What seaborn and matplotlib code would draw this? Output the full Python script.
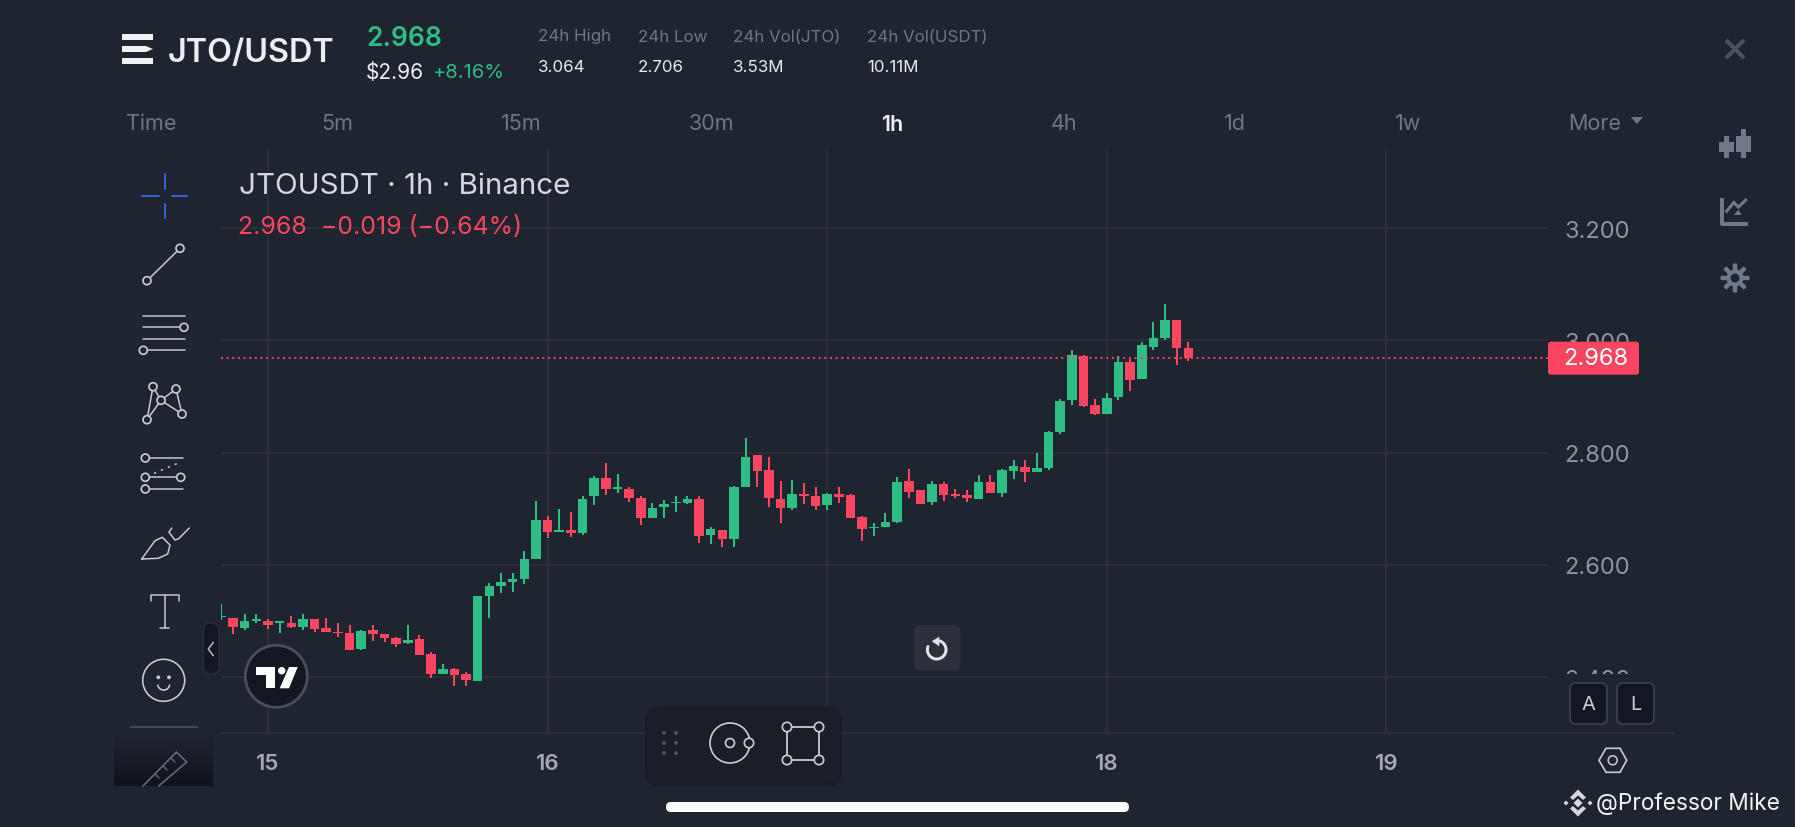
import numpy as np
import pandas as pd
import matplotlib
matplotlib.use("Agg")
import matplotlib.pyplot as plt
from matplotlib.colors import LinearSegmentedColormap
from matplotlib.patches import Circle, FancyBboxPatch, Polygon, Rectangle
import seaborn as sns

hours = list(range(-4, 80))
opens = [2.507,2.506,2.488,2.500,2.499,2.497,2.496,2.489,2.503,2.488,2.481,2.478,2.450,2.483,2.477,2.470,2.460,2.467,2.441,2.405,2.415,2.405,2.393,2.544,2.562,2.570,
         2.575,2.610,2.679,2.659,2.662,2.656,2.722,2.754,2.735,2.735,2.719,2.683,2.703,2.710,2.710,2.717,2.653,2.662,2.646,2.738,2.795,2.769,2.718,2.701,
         2.726,2.723,2.706,2.727,2.725,2.685,2.665,2.668,2.676,2.750,2.733,2.712,2.744,2.726,2.725,2.718,2.747,2.728,2.767,2.774,2.766,2.772,
         2.836,2.893,2.973,2.884,2.869,2.899,2.961,2.932,2.989,3.004,3.037,2.987]
highs = [2.530,2.506,2.512,2.512,2.504,2.500,2.508,2.512,2.504,2.505,2.497,2.493,2.483,2.493,2.477,2.472,2.492,2.474,2.445,2.424,2.416,2.409,2.545,2.567,2.586,2.585,
         2.624,2.714,2.687,2.700,2.695,2.722,2.758,2.782,2.761,2.738,2.722,2.711,2.716,2.723,2.723,2.723,2.668,2.662,2.740,2.826,2.795,2.793,2.749,2.752,
         2.745,2.738,2.728,2.738,2.726,2.687,2.675,2.692,2.757,2.770,2.734,2.749,2.747,2.736,2.734,2.760,2.760,2.770,2.786,2.786,2.799,2.838,
         2.895,2.982,2.974,2.896,2.907,2.973,2.967,2.998,3.033,3.064,3.037,2.998]
lows = [2.502,2.477,2.484,2.496,2.486,2.478,2.487,2.484,2.481,2.480,2.472,2.448,2.448,2.464,2.463,2.453,2.459,2.440,2.398,2.405,2.384,2.384,2.393,2.505,2.549,2.551,
        2.565,2.610,2.648,2.658,2.650,2.653,2.707,2.725,2.728,2.712,2.671,2.683,2.684,2.695,2.708,2.639,2.637,2.632,2.631,2.738,2.739,2.703,2.675,2.698,
        2.708,2.697,2.697,2.710,2.683,2.643,2.651,2.668,2.674,2.719,2.709,2.707,2.713,2.719,2.712,2.718,2.728,2.720,2.753,2.747,2.765,2.769,
        2.833,2.884,2.881,2.867,2.869,2.893,2.909,2.932,2.982,3.000,2.957,2.964]
closes = [2.509,2.489,2.500,2.503,2.493,2.500,2.489,2.503,2.486,2.480,2.478,2.448,2.482,2.477,2.469,2.459,2.466,2.440,2.405,2.415,2.404,2.395,2.544,2.563,2.570,2.574,
          2.610,2.679,2.658,2.662,2.656,2.718,2.754,2.736,2.738,2.719,2.683,2.702,2.708,2.712,2.717,2.651,2.663,2.646,2.739,2.793,2.767,2.719,2.701,2.727,
          2.723,2.704,2.727,2.721,2.683,2.663,2.668,2.677,2.747,2.730,2.709,2.744,2.725,2.722,2.719,2.747,2.728,2.769,2.776,2.766,2.772,2.836,
          2.892,2.974,2.883,2.868,2.898,2.961,2.930,2.991,3.005,3.036,2.987,2.968]
last_price = 2.968
price_ticks = [2.4, 2.6, 2.8, 3.0, 3.2]
day_hours = [0, 24, 48, 72, 96]
day_labels = ["15", "16", "17", "18", "19"]

BG = "#1f2530"; GRID = "#2b303b"; GREEN = "#2ebd85"; RED = "#f9455f"
DARK = "#131722"; ICON = "#c9ccd3"; GRAY = "#6f7683"; SIDE = "#6f7987"

sns.set_theme(style="dark", rc={"figure.facecolor": BG, "axes.facecolor": BG, "savefig.facecolor": BG})
plt.rcParams["font.family"] = ["Inter", "DejaVu Sans"]
plt.rcParams["patch.linewidth"] = 0

W, H = 1795, 828
fig = plt.figure(figsize=(W / 100, H / 100), dpi=100)
L, R, T_, B = 221, 1548, 150, 734
ax = fig.add_axes([L / W, 1 - B / H, (R - L) / W, (B - T_) / H])

df = pd.DataFrame({"hour": hours, "open": opens, "high": highs, "low": lows, "close": closes})
df["dir"] = np.where(df["close"] >= df["open"], "up", "down")
df["bottom"] = df[["open", "close"]].min(axis=1)
df["height"] = (df["open"] - df["close"]).abs()
palette = {"up": GREEN, "down": RED}

for d, col in palette.items():
    sub = df[df["dir"] == d]
    sns.barplot(data=sub, x="hour", y="height", bottom=sub["bottom"].to_numpy(), native_scale=True,
                width=0.82, color=col, saturation=1, errorbar=None, linewidth=0, ax=ax)

wicks = df.melt(id_vars=["hour", "dir"], value_vars=["high", "low"], value_name="price")
sns.lineplot(data=wicks, x="hour", y="price", hue="dir", units="hour", estimator=None,
             palette=palette, legend=False, linewidth=1.45, solid_capstyle="butt", ax=ax)

ax.axhline(last_price, color=RED, lw=1.4, ls=(0, (1, 1.9)), zorder=4)
ax.set_xlim((L - 268) / 11.65, (R - 268) / 11.65)
ax.set_ylim(3.2 - (B - 229.2) / 561, 3.2 + (229.2 - T_) / 561)
ax.set_xlabel(""); ax.set_ylabel("")
ax.set_xticks(day_hours, day_labels)
ax.yaxis.tick_right()
ax.set_yticks(price_ticks, [f"{v:.3f}" for v in price_ticks])
ax.grid(True, color=GRID, lw=1.3)
ax.set_axisbelow(True)
ax.tick_params(axis="x", length=0, pad=14.5, labelsize=16, labelcolor="#a3a8b2")
ax.tick_params(axis="y", length=0, pad=12, labelsize=17, labelcolor="#8f95a0")
for lab in ax.get_xticklabels():
    lab.set_fontweight("semibold")
for s in ["top", "left", "right"]:
    ax.spines[s].set_visible(False)
ax.spines["bottom"].set_color(GRID); ax.spines["bottom"].set_linewidth(1.3)

# pixel-coordinate overlay for the app's interface
ov = fig.add_axes([0, 0, 1, 1], zorder=5)
ov.patch.set_alpha(0)
ov.set_axis_off()

def line(xs, ys, color=ICON, lw=1.5, **k):
    ov.plot(xs, ys, color=color, lw=lw * 0.72, solid_capstyle=k.pop("cap", "round"), **k)

def ring(x, y, r=4, color=ICON, lw=1.7, fc=BG):
    ov.add_patch(Circle((x, y), r, fc=fc, ec=color, lw=lw * 0.72, zorder=4))

def arc(cx, cy, r, a0, a1, **k):
    a = np.radians(np.linspace(a0, a1, 60))
    line(cx + r * np.cos(a), cy + r * np.sin(a), **k)

def rbox(x0, y0, x1, y1, rad, fc, ec="none", lw=0, z=2, alpha=None):
    ov.add_patch(FancyBboxPatch((x0 + rad, y0 + rad), x1 - x0 - 2 * rad, y1 - y0 - 2 * rad,
                                boxstyle=f"round,pad={rad},rounding_size={rad}", fc=fc, ec=ec, lw=lw, zorder=z, alpha=alpha))

def txt(x, y, s, size, color, ha="left", weight="normal", z=6):
    ov.text(x, y, s, fontsize=size, color=color, ha=ha, va="center", fontweight=weight, zorder=z)

# header
ov.add_patch(Rectangle((122, 35), 31, 6, fc="#f0f1f3"))
ov.add_patch(Polygon([(122, 47), (146, 47), (153, 50), (146, 53), (122, 53)], fc="#f0f1f3"))
ov.add_patch(Rectangle((122, 59), 31, 6, fc="#f0f1f3"))
txt(168, 53, "JTO/USDT", 23.3, "#eceef1", weight="semibold")
txt(366, 39, "2.968", 19, GREEN, weight="semibold")
txt(366, 73, "$2.96", 15, "#eceef1")
txt(432, 73, "+8.16%", 14.5, GREEN)
for x, a, b in [(538, "24h High", "3.064"), (638, "24h Low", "2.706"),
                (733, "24h Vol(JTO)", "3.53M"), (867, "24h Vol(USDT)", "10.11M")]:
    txt(x, 37, a, 12.2, GRAY)
    txt(x, 67, b, 12.2, "#e8eaed")
for x, s in [(151, "Time"), (337, "5m"), (521, "15m"), (711, "30m"), (1064, "4h"), (1235, "1d"), (1408, "1w"), (1595, "More")]:
    txt(x, 124, s, 15.5, GRAY, ha="center")
txt(892, 125, "1h", 15.5, "#eceef1", ha="center", weight="semibold")
ov.add_patch(Polygon([(1631, 118), (1643, 118), (1637, 125)], fc=GRAY))
txt(239, 186, "JTOUSDT · 1h · Binance", 21.3, "#d5d8de")
txt(238, 228, "2.968  −0.019 (−0.64%)", 17.9, RED)

# top-right and side icons
line([1726, 1744], [41, 59], color="#4c525d", lw=4, cap="butt")
line([1726, 1744], [59, 41], color="#4c525d", lw=4, cap="butt")
for xb0, xb1, xw, yb0, yw0 in [(1719, 1734, 1726.5, 142.7, 136.7), (1736.3, 1751.3, 1743.8, 136.7, 130)]:
    ov.add_patch(Rectangle((xb0, yb0), xb1 - xb0, 152.7 - yb0, fc=SIDE))
    ov.add_patch(Rectangle((xw - 2.5, yw0), 5, 159 - yw0, fc=SIDE))
line([1722.3, 1722.3, 1747.7], [199.3, 224.7, 224.7], color=SIDE, lw=4, cap="butt")
line([1725.7, 1734, 1738.3, 1746.7], [213.3, 203.3, 208.3, 200], color=SIDE, lw=3, cap="butt")
ov.add_patch(Polygon([(1734, 216), (1738.3, 210.7), (1741.7, 216)], fc=SIDE))
theta = np.radians(np.linspace(0, 360, 241)[:-1])
gear_r = 11.5 + 3 * np.clip(2.2 * np.cos(8 * theta), -1, 1)
ov.add_patch(Polygon(np.c_[1735 + gear_r * np.cos(theta), 279 + gear_r * np.sin(theta)], fc=SIDE))
ov.add_patch(Circle((1735, 279), 4.5, fc=BG))

# drawing toolbar
line([142, 159], [197, 197], color="#2f62d8", lw=2)
line([172, 187], [197, 197], color="#2f62d8", lw=2)
line([164.5, 164.5], [175, 190], color="#2f62d8", lw=2)
line([164.5, 164.5], [205, 219], color="#2f62d8", lw=2)
line([147, 180], [281.7, 249.3]); ring(147, 281.7); ring(180, 249.3)
for y in (316.7, 328.3, 339.7, 351.3):
    line([142.7, 185], [y, y])
ring(184, 328.3); ring(143.3, 351.3)
pts = {"a": (153, 387.7), "b": (176, 390), "c": (161, 401.3), "d": (182, 415), "e": (147, 420.7)}
for p, q in ["ae", "ac", "ce", "cb", "cd", "bd"]:
    line([pts[p][0], pts[q][0]], [pts[p][1], pts[q][1]])
for p in pts.values():
    ring(*p)
line([145.3, 182.7], [459, 459]); ring(145.3, 459)
line([145.3, 180.7], [478.3, 478.3]); ring(145.3, 478.3); ring(180.7, 478.3)
line([145.3, 182.7], [490, 490]); ring(145.3, 490)
line([154, 180], [474.3, 463.3], ls=(0, (1.5, 3.5)))
line([171.7, 169, 175, 178.3, 189.3], [529, 533.3, 541, 540, 529])
line([141.7, 155, 162.3, 170, 167.7, 158.3, 141.7], [560, 541.7, 538.3, 546, 555, 559.3, 560])
line([150.7, 150.7, 178.7, 178.7], [602.3, 595.7, 595.7, 602.3])
line([164.7, 164.7], [595.7, 629]); line([160, 169.3], [629, 629])
ring(163.7, 681.3, r=21, lw=1.6, fc="none")
ov.add_patch(Circle((158.3, 678.3), 1.9, fc=ICON)); ov.add_patch(Circle((169, 678.3), 1.9, fc=ICON))
arc(163.7, 685, 6, 10, 170, lw=1.6)
line([130, 198], [728, 728], color="#4a4e58", lw=1.8, cap="butt")
grad = np.linspace(1, 0, 60).reshape(-1, 1)
ov.imshow(grad, extent=(114, 213, 787, 735), cmap=LinearSegmentedColormap.from_list("g", [BG, "#10131a"]),
          aspect="auto", zorder=1, origin="lower")
line([143, 176.5, 186.7, 158.7], [787, 753, 763, 787], color="#6b707a", lw=1.5)
for a, b in [(155, 775), (163, 767), (171, 759)]:
    line([a, a + 4], [b, b + 4], color="#6b707a", lw=1.2)

rbox(203.3, 624, 219, 675, 7.5, DARK, ec="#2a2e38", lw=1)
line([213.3, 208.3, 213.3], [643.3, 650, 656.7], lw=1.6, color="#aeb2ba")
ov.add_patch(Circle((276.3, 677.3), 31, fc=DARK, ec="#4a4e58", lw=2))
ov.add_patch(Polygon([(256, 668), (275, 668), (275, 689.3), (266, 689.3), (266, 676.3), (256, 676.3)], fc="white", zorder=4))
ov.add_patch(Circle((281.7, 671.7), 3.7, fc="white", zorder=4))
ov.add_patch(Polygon([(289, 668), (297.7, 668), (289, 689.3), (279.7, 689.3)], fc="white", zorder=4))

rbox(914, 626, 960.7, 671.7, 8, "#2b303b")
arc(936.7, 650.7, 9.3, -70, 200, lw=3, color="#e2e4e8", zorder=4)
ov.add_patch(Polygon([(939.3, 637.7), (931.7, 642.3), (939.3, 647.3)], fc="#e2e4e8", zorder=4))

# floating toolbar hides the "17" label
rbox(645, 709, 842, 787, 13, "#14171e", z=2.9, alpha=0.5)
rbox(647, 707, 840, 783, 12, "#1a1e27", z=3)
for x in (664, 676):
    for y in (734, 744, 754):
        ov.add_patch(Circle((x, y), 1.9, fc="#50555f", zorder=4))
ring(730, 744, r=20, fc="none"); ring(730, 744, r=4.5, fc="none"); ring(749, 744, r=4.7, fc="#1a1e27")
ov.add_patch(Rectangle((787, 728), 32, 33, fc="none", ec=ICON, lw=1.3, zorder=4))
for x, y in [(787, 728), (819, 728), (787, 761), (819, 761)]:
    ring(x, y, r=4.7, fc="#1a1e27")

# price badge, clipped 2.400 label, A/L buttons
ov.add_patch(Rectangle((1552, 675), 120, 58, fc=BG, zorder=1))
line([1550, 1675], [734, 734], color=GRID, lw=1.8, cap="butt")
rbox(1548, 342.7, 1639, 375.7, 3, RED)
txt(1596, 359, "2.968", 17, "white", ha="center")
rbox(1570, 684, 1607, 725, 6, DARK, ec="#3a3f4a", lw=1.3)
rbox(1617, 684, 1654, 725, 6, DARK, ec="#3a3f4a", lw=1.3)
txt(1588.5, 705, "A", 14.5, "#c9ccd3", ha="center")
txt(1635.5, 705, "L", 14.5, "#c9ccd3", ha="center")
ov.add_patch(Polygon([(1599, 761.3), (1606, 749.3), (1620, 749.3), (1626.7, 761.3), (1620, 773.3), (1606, 773.3)],
                     fc="none", ec=ICON, lw=1.2))
ring(1612.7, 761.3, r=4.5, lw=1.5)

# home bar and watermark
rbox(666, 803, 1129, 813, 5, "white", z=3)
ld = "#d5d8dc"
ov.add_patch(Polygon([(1578, 799.5), (1582.5, 804), (1578, 808.5), (1573.5, 804)], fc=ld))
ov.add_patch(Polygon([(1566, 801.5), (1568.5, 804), (1566, 806.5), (1563.5, 804)], fc=ld))
ov.add_patch(Polygon([(1590, 801.5), (1592.5, 804), (1590, 806.5), (1587.5, 804)], fc=ld))
ov.add_patch(Polygon([(1578, 790.5), (1586, 798.5), (1583, 801), (1578, 796.5), (1573, 801), (1570, 798.5)], fc=ld))
ov.add_patch(Polygon([(1578, 817.5), (1586, 809.5), (1583, 807), (1578, 811.5), (1573, 807), (1570, 809.5)], fc=ld))
txt(1596, 804, "@Professor Mike", 16.3, "#f2f3f5")

ov.set_xlim(0, W); ov.set_ylim(H, 0)
fig.savefig("out.png", dpi=100)
